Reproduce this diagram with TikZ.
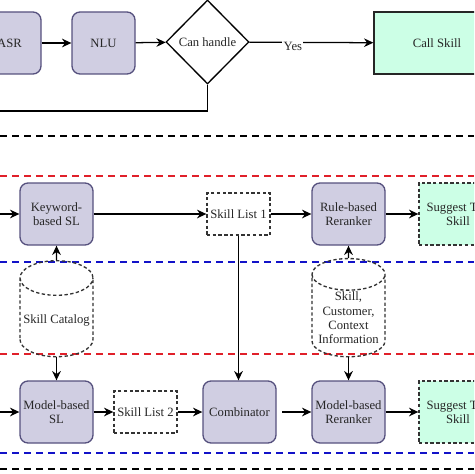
\documentclass[tikz,border=0pt]{standalone}
\usepackage{fontspec}
\setmainfont{Liberation Serif}
\usepackage{tikz}
\usetikzlibrary{arrows.meta,shapes.geometric}
\usepackage{xcolor}
\definecolor{mypurple}{HTML}{D0CEE2}
\definecolor{mypurpledraw}{HTML}{56517E}
\definecolor{mymint}{HTML}{CCFFE6}
\definecolor{myred}{HTML}{E0202A}
\definecolor{myblue}{HTML}{1212C8}
\tikzset{
  >={Stealth[length=7pt,width=6.5pt]}, % arrow head like drawio
}

\begin{document}
\begin{tikzpicture}[x=0.75pt, y=-0.75pt, font=\fontsize{9.5}{10.7}\selectfont]

% Styles
\tikzstyle{block} = [rectangle, rounded corners=6pt, draw=mypurpledraw, fill=mypurple, line width=1pt, text=black!85, minimum width=54.75pt, minimum height=46.5pt, align=center, inner sep=1pt]
\tikzstyle{small block} = [block, minimum width=47.25pt]
\tikzstyle{skill list} = [rectangle, draw=black!80, line width=1pt, dash pattern=on 2.5pt off 1.8pt, fill=white, text=black!85, minimum width=47.25pt, minimum height=31.5pt, inner sep=1pt]
\tikzstyle{database} = [cylinder, shape border rotate=90, draw=black!80, line width=1pt, dash pattern=on 2.5pt off 1.8pt, text=black!85, minimum width=54.75pt, minimum height=72pt, aspect=0.5, align=center, inner sep=1pt]
\tikzstyle{call} = [rectangle, draw=black!85, line width=1pt, fill=mymint, text=black!85, minimum width=94.5pt, minimum height=46.5pt]
\tikzstyle{suggest} = [rectangle, draw=black!80, line width=1pt, dash pattern=on 2.5pt off 1.8pt, fill=mymint, text=black!85, minimum width=58.5pt, minimum height=46.5pt, align=center]
\tikzstyle{decision} = [diamond, draw=black, line width=1pt, fill=white, text=black!85, minimum width=62.25pt, minimum height=63pt, inner sep=0pt]
\tikzstyle{connect} = [->, draw=black, line width=0.95pt]
\tikzstyle{separator} = [line width=1.5pt, dash pattern=on 5.25pt off 3.75pt]

\clip (0,0) rectangle (474,474);

% Lignes de séparation
\foreach \y/\c in {136/black, 176/myred, 262/myblue, 354/myred, 453/myblue, 469/black}
  \draw[separator, \c] (0,\y) -- (474,\y);

% Pipeline du haut
\node[small block] (ASR) at (9.5,43) {ASR};
\node[small block] (NLU) at (103.5,43) {NLU};
\node[decision] (can) at (207.5,42) {Can handle};
\node[call] (call) at (437,43) {Call Skill};
\coordinate (back) at (-10,111);

\draw[connect] (ASR) -- (NLU);
\draw[connect] (NLU) -- (can);
\draw[connect] (can) -- node[pos=0.35, fill=white, inner sep=1pt, yshift=-3pt, text=black!85] {Yes} (call);
\draw[line width=0.95pt] (can.south) |- (back);

% Sélection par mots-clés
\node[block] (KW) at (56.5,214) {Keyword-\\based SL};
\node[skill list] (SL1) at (238.5,214) {Skill List 1};
\node[block] (RR) at (348.5,214) {Rule-based\\Reranker};
\node[suggest] (ST1) at (458,214) {Suggest Top\\Skill};
\coordinate (in1) at (-5,214);

% Bases de données
\node[database] (cat) at (56.5,320) {Skill Catalog};
\node[database] (info) at (348.5,318) {Skill,\\Customer,\\Context\\Information};

% Sélection par modèle
\node[block] (MSL) at (56.5,412) {Model-based\\SL};
\node[skill list] (SL2) at (145.5,412) {Skill List 2};
\node[block] (comb) at (239.5,412) {Combinator};
\node[block] (MRR) at (348.5,412) {Model-based\\Reranker};
\node[suggest] (ST2) at (458,412) {Suggest Top\\Skill};
\coordinate (in2) at (-5,412);

% Connexions
\draw[connect] (in1) -- (KW);
\draw[connect] (KW) -- (SL1);
\draw[connect] (SL1) -- (RR);
\draw[connect] (RR) -- (ST1);
\draw[connect] (cat) -- (KW);
\draw[connect] (cat) -- (MSL);
\draw[connect] (info) -- (RR);
\draw[connect] (info) -- (MRR);
\draw[connect] (SL1.south) -- (SL1.south |- comb.north);
\draw[connect] (in2) -- (MSL);
\draw[connect] (MSL) -- (SL2);
\draw[connect] (SL2) -- (comb);
\draw[connect, shorten <=4pt] (comb) -- (MRR);
\draw[connect] (MRR) -- (ST2);

\end{tikzpicture}
\end{document}
